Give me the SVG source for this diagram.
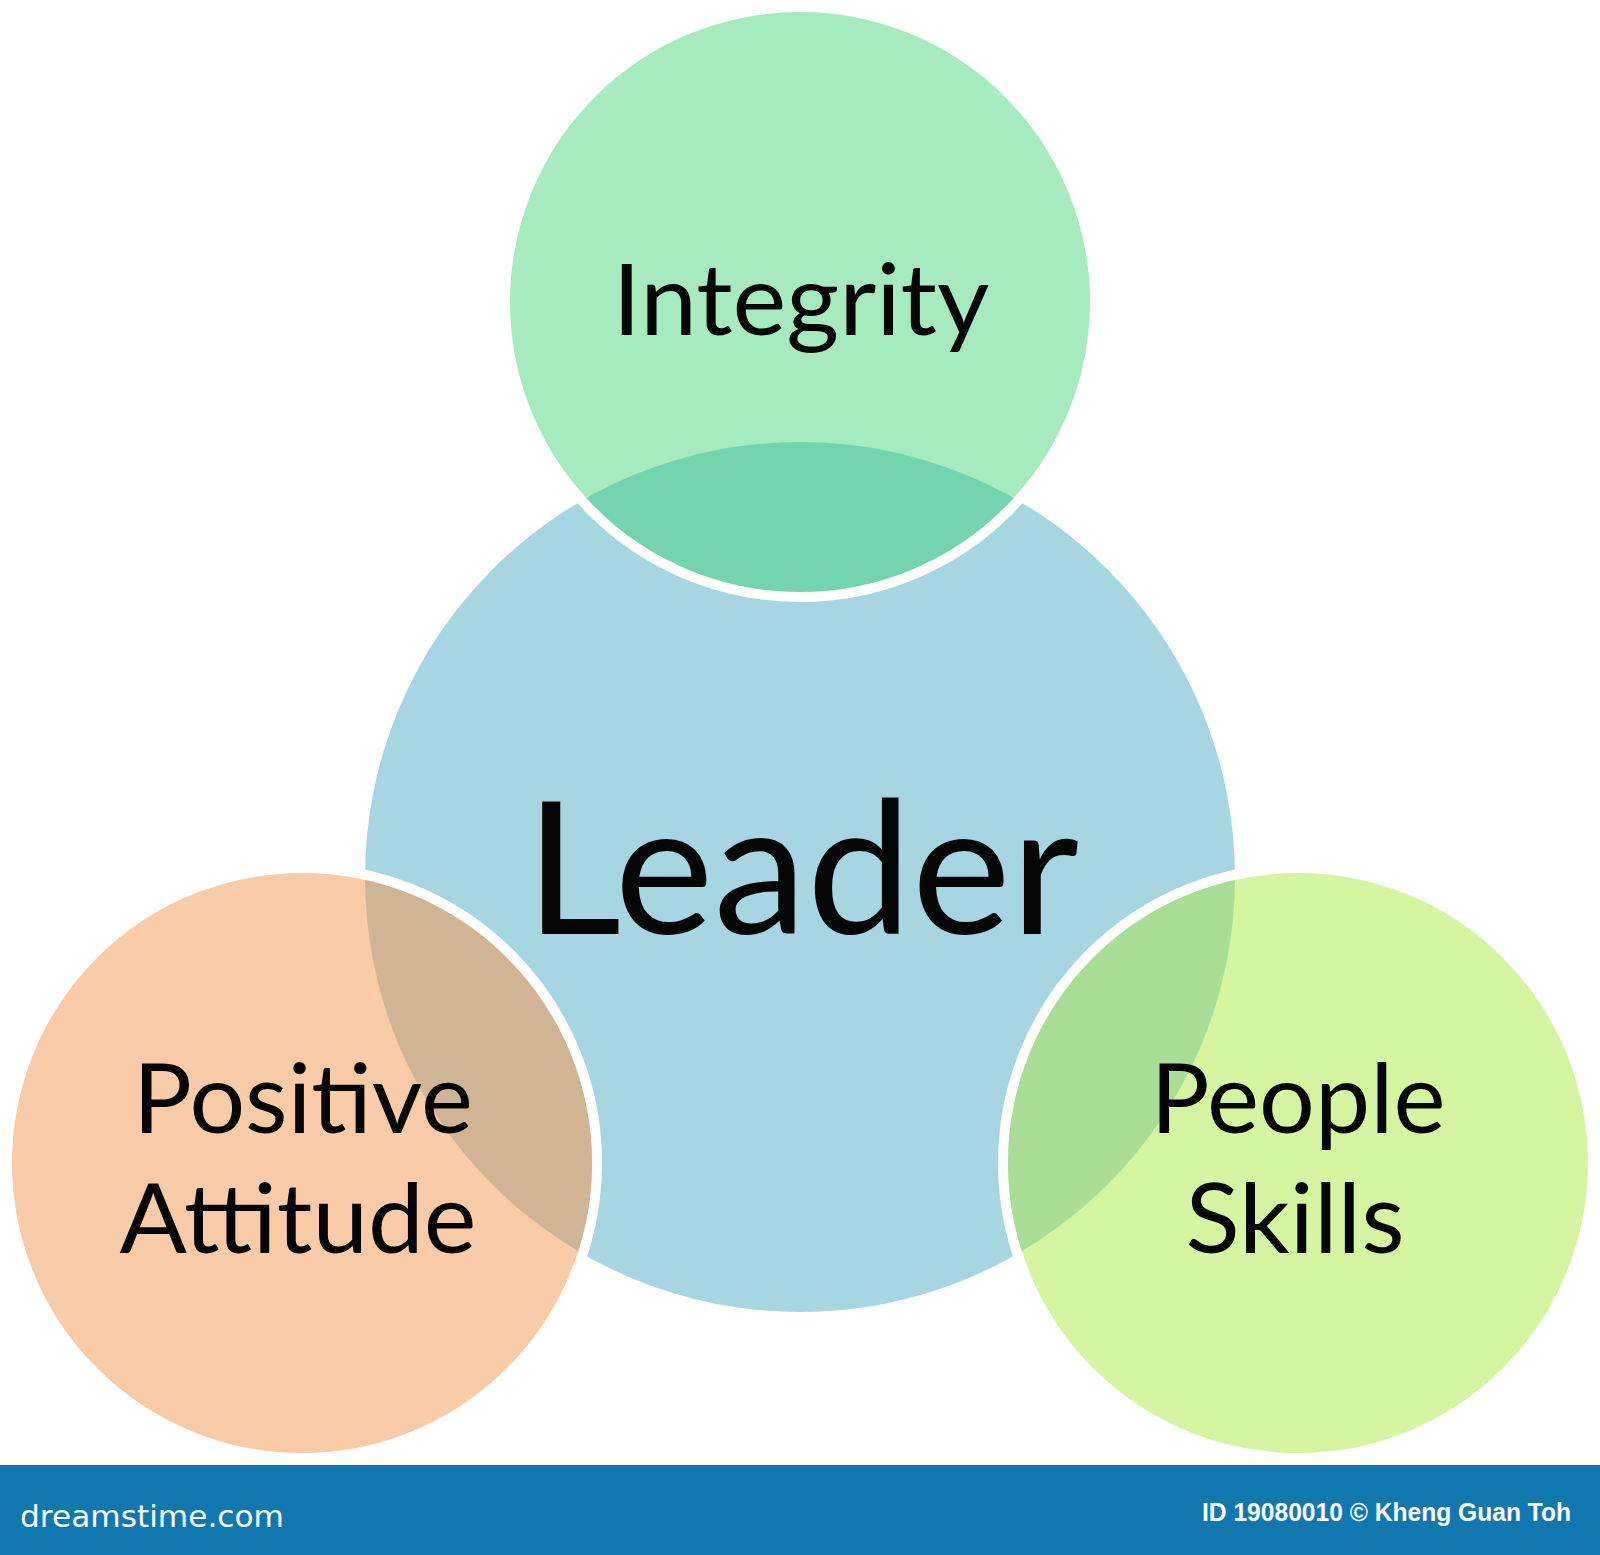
<svg xmlns="http://www.w3.org/2000/svg" width="1600" height="1555" viewBox="0 0 1600 1555">
<style>
.lbl{font-family:Lato,"Open Sans","Liberation Sans",sans-serif;fill:#050505;text-anchor:middle}
.ring{stroke:#ffffff;stroke-width:10}
.foot{font-family:"Liberation Sans Narrow","Liberation Sans",Arial,sans-serif;fill:#ffffff}
.bold{font-weight:bold}
.brand{font-family:"DejaVu Sans","Liberation Sans",sans-serif;fill:#ffffff;font-weight:normal}
</style>
<defs>
<clipPath id="cTop"><circle cx="800" cy="302" r="290"/></clipPath>
<clipPath id="cLeft"><circle cx="302" cy="1163" r="290"/></clipPath>
<clipPath id="cRight"><circle cx="1298" cy="1163" r="290"/></clipPath>
</defs>
<rect width="1600" height="1555" fill="#ffffff"/>
<g id="leader">
<circle cx="800" cy="877" r="435" fill="#a7d6e3"/>
</g>
<g id="integrity">
<circle class="ring" cx="800" cy="302" r="295" fill="#a6ebbe"/>
<circle cx="800" cy="877" r="435" fill="#74d4ae" clip-path="url(#cTop)"/>
<text class="lbl" x="801" y="335" font-size="98" textLength="377" lengthAdjust="spacingAndGlyphs">Integrity</text>
</g>
<g id="positive-attitude">
<circle class="ring" cx="302" cy="1163" r="295" fill="#f9cba7"/>
<circle cx="800" cy="877" r="435" fill="#cfb594" clip-path="url(#cLeft)"/>
<text class="lbl" x="303" y="1133" font-size="96" textLength="340" lengthAdjust="spacingAndGlyphs">Positive</text>
<text class="lbl" x="298" y="1253" font-size="96" textLength="357" lengthAdjust="spacingAndGlyphs">Attitude</text>
</g>
<g id="people-skills">
<circle class="ring" cx="1298" cy="1163" r="295" fill="#d6f5a0"/>
<circle cx="800" cy="877" r="435" fill="#a8de95" clip-path="url(#cRight)"/>
<text class="lbl" x="1298" y="1133" font-size="96" textLength="295" lengthAdjust="spacingAndGlyphs">People</text>
<text class="lbl" x="1295" y="1253" font-size="96" textLength="219" lengthAdjust="spacingAndGlyphs">Skills</text>
</g>
<g id="leader-label">
<text class="lbl" x="802" y="934" font-size="185" textLength="554" lengthAdjust="spacingAndGlyphs">Leader</text>
</g>
<g id="connectors"></g>
<g id="footer">
<rect x="0" y="1465" width="1600" height="90" fill="#1077af"/>
<text class="brand" x="20" y="1527" font-size="30" textLength="264" lengthAdjust="spacingAndGlyphs">dreamstime.com</text>
<text class="foot bold" x="1571" y="1521" font-size="25" text-anchor="end" textLength="369" lengthAdjust="spacingAndGlyphs">ID 19080010 © Kheng Guan Toh</text>
</g>
</svg>
